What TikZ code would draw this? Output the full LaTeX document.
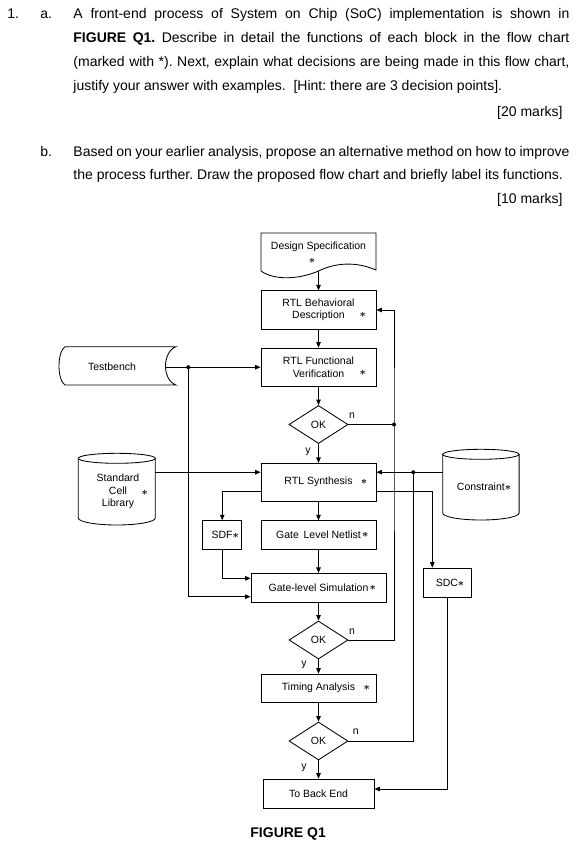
\documentclass[tikz,border=0pt]{standalone}
\usepackage{fontspec}
\setmainfont{Liberation Sans}
\usetikzlibrary{arrows.meta, shapes.geometric}
\newcommand{\mk}{\mbox{\boldmath$\ast$}}
\frenchspacing

\begin{document}
\begin{tikzpicture}[x=1pt, y=-1pt, line width=0.85pt,
    box/.style={draw, inner sep=0pt, align=center, font=\fontsize{10.5}{12.5}\selectfont},
    dec/.style={draw, diamond, inner sep=0pt, minimum width=59pt, minimum height=38pt, font=\fontsize{10.5}{12.5}\selectfont},
    lbl/.style={inner sep=0pt, align=center, font=\fontsize{10.5}{12.5}\selectfont},
    hdr/.style={inner sep=0pt, anchor=base west, font=\fontsize{14}{16}\selectfont},
    arr/.style={-{Triangle[length=5.5pt, width=4.5pt]}}]
  \useasboundingbox (0,0) rectangle (582,848);
  \node[hdr] (qnum) at (7,19) {1.};
  \node[hdr] (qa) at (40,19) {a.};
  \node[hdr] (qa1) at (73,19) {\makebox[496pt][s]{A front-end process of System on Chip (SoC) implementation is shown in}};
  \node[hdr] (qa2) at (73,43) {\makebox[496pt][s]{\textbf{FIGURE Q1.} Describe in detail the functions of each block in the flow chart}};
  \node[hdr] (qa3) at (73,66.5) {\makebox[496pt][s]{(marked with *). Next, explain what decisions are being made in this flow chart,}};
  \node[hdr] (qa4) at (73,90.5) {justify your answer with examples.\ \ [Hint: there are 3 decision points].};
  \node[hdr, anchor=base east] (qam) at (563,116.5) {[20 marks]};
  \node[hdr] (qb) at (40,156) {b.};
  \node[hdr] (qb1) at (73,156) {\makebox[496pt][s]{Based on your earlier analysis, propose an alternative method on how to improve}};
  \node[hdr] (qb2) at (73,179.5) {the process further. Draw the proposed flow chart and briefly label its functions.};
  \node[hdr, anchor=base east] (qbm) at (563,203.5) {[10 marks]};
  \node[hdr, anchor=base west] (fig) at (250,837) {\textbf{FIGURE Q1}};

  \draw (261,271) -- (261,233) -- (376,233) -- (376,270) .. controls (355,261) and (335,263) .. (318.5,271) .. controls (300,279) and (275,281) .. (261,271);
  \node[lbl] (spec) at (318.5,247) {Design Specification};
  \node[lbl] (spec-st) at (312,261) {\mk};
  \coordinate (spec-b) at (318.5,271);

  \node[box, minimum width=115pt, minimum height=38.3pt] (beh) at (318.5,310) {RTL Behavioral\\Description};
  \node[box, minimum width=115pt, minimum height=38.3pt] (func) at (318.5,367.2) {RTL Functional\\Verification};
  \node[dec] (ok1) at (318.5,424.5) {OK};
  \node[box, minimum width=115pt, minimum height=37.7pt] (synth) at (318.5,482.2) {RTL Synthesis};
  \node[box, minimum width=115pt, minimum height=28.6pt] (net) at (318.5,535) {Gate\, Level Netlist};
  \node[box, minimum width=39pt, minimum height=28.6pt] (sdf) at (222.2,535) {\hspace*{6pt}SDF\mk};
  \node[box, minimum width=135pt, minimum height=28.7pt] (gsim) at (318.5,587.7) {Gate-level Simulation};
  \node[dec] (ok2) at (318.5,640) {OK};
  \node[box, minimum width=115pt, minimum height=28.3pt] (tim) at (318.5,688.2) {Timing Analysis};
  \node[dec] (ok3) at (318.5,741) {OK};
  \node[box, minimum width=111pt, minimum height=29.3pt] (back) at (318.5,793.7) {To Back End};
  \node[box, minimum width=48pt, minimum height=29.3pt] (sdc) at (447,582.7) {\hspace*{6pt}SDC\mk};

  \node[lbl] (beh-st) at (362.7,315.3) {\mk};
  \node[lbl] (func-st) at (362.7,373.3) {\mk};
  \node[lbl] (synth-st) at (364,482) {\mk};
  \node[lbl] (net-st) at (365.3,535.3) {\mk};
  \node[lbl] (gsim-st) at (372.7,587.5) {\mk};
  \node[lbl] (tim-st) at (366.7,688.3) {\mk};

  \draw (65,346.7) -- (176,346.7) .. controls (162,352) and (162,380) .. (176,385) -- (65,385) .. controls (57,380) and (57,352) .. (65,346.7) -- cycle;
  \node[lbl] (tb) at (112,366.7) {Testbench};
  \coordinate (tb-r) at (165.5,367.2);

  \draw (116.8,458.3) ellipse[x radius=38.5, y radius=5];
  \draw (78.3,458.3) -- (78.3,518) arc[start angle=180, end angle=0, x radius=38.5, y radius=7] -- (155.3,458.3);
  \node[lbl] (lib) at (118,491.5) {Standard\\Cell\\Library};
  \node[lbl] (lib-st) at (144.7,493.3) {\mk};
  \coordinate (lib-r) at (155.3,472.2);

  \draw (480.9,454.3) ellipse[x radius=38.2, y radius=5];
  \draw (442.7,454.3) -- (442.7,513) arc[start angle=180, end angle=0, x radius=38.2, y radius=7] -- (519.1,454.3);
  \node[lbl] (con) at (484,487) {Constraint\mk};
  \coordinate (con-l) at (442.7,472.2);

  \coordinate (j1) at (394,424.5);
  \coordinate (j2) at (188.3,367.2);
  \coordinate (j3) at (413.3,472.2);

  \draw[arr] (spec-b) -- (beh);
  \draw[arr] (beh) -- (func);
  \draw[arr] (func) -- (ok1);
  \draw[arr] (ok1) -- (synth);
  \draw[arr] (synth) -- (net);
  \draw[arr] (net) -- (gsim);
  \draw[arr] (gsim) -- (ok2);
  \draw[arr] (ok2) -- (tim);
  \draw[arr] (tim) -- (ok3);
  \draw[arr] (ok3) -- (back);

  \draw (ok1.east) -- (j1);
  \draw[arr] (ok2.east) -| (j1) |- (beh.east);
  \draw[arr] (tb-r) -- (func.west);
  \draw[arr] (j2) |- ([yshift=-9pt]gsim.west);
  \draw[arr] (lib-r) -- ([yshift=10pt]synth.west);
  \draw[arr] (con-l) -- ([yshift=10pt]synth.east);
  \draw (ok3.east) -| (j3);
  \draw[arr] ([yshift=-9.5pt]synth.west) -| (sdf);
  \draw[arr] (sdf) |- ([yshift=9.4pt]gsim.west);
  \draw[arr] ([yshift=-9.5pt]synth.east) -| ([xshift=-14.7pt]sdc.north);
  \draw[arr] (sdc) |- ([yshift=4.7pt]back.east);
  \fill (j1) circle (2);
  \fill (j2) circle (2);
  \fill (j3) circle (2);

  \node[lbl] (n1) at (352,416) {n};
  \node[lbl] (n2) at (352,632) {n};
  \node[lbl] (n3) at (355.7,731.7) {n};
  \node[lbl] (y1) at (308,452) {y};
  \node[lbl] (y2) at (304,665) {y};
  \node[lbl] (y3) at (304,768.3) {y};
\end{tikzpicture}
\end{document}
